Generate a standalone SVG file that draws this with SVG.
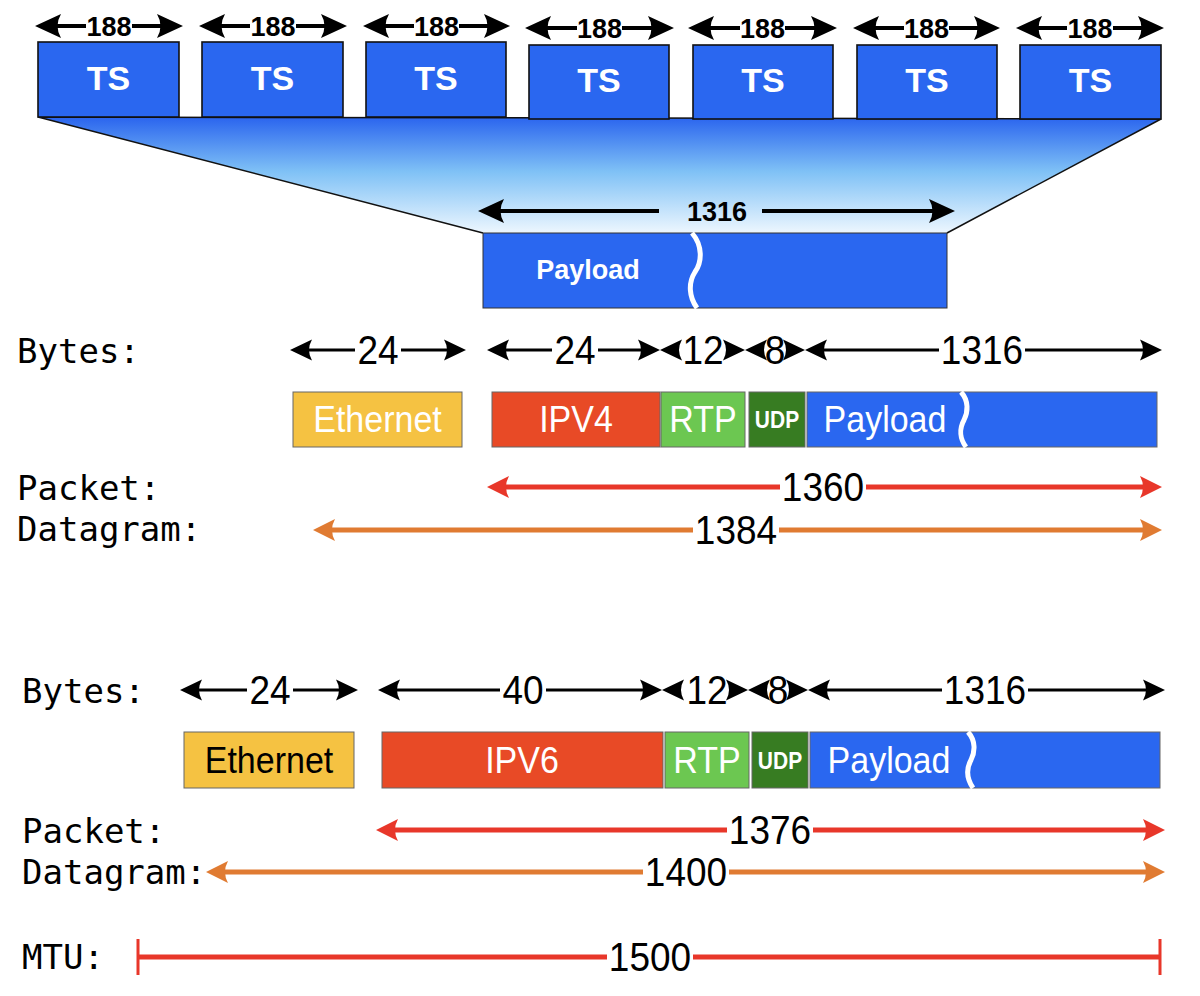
<svg xmlns="http://www.w3.org/2000/svg" xmlns:xlink="http://www.w3.org/1999/xlink" width="1200" height="996" viewBox="0 0 1200 996">
<style>
.ts{fill:#2a67f0;stroke:#111;stroke-width:1.6}
.tst{font-family:"Liberation Sans",Arial,sans-serif;font-weight:bold;font-size:34px;fill:#fff;text-anchor:middle}
.dimb{font-family:"Liberation Sans",Arial,sans-serif;font-weight:bold;font-size:27px;fill:#000;text-anchor:middle}
.dim{font-family:"Liberation Sans",Arial,sans-serif;font-size:37px;fill:#000;text-anchor:middle;transform-box:fill-box;transform-origin:center;transform:scaleY(1.12)}
.mono{font-family:"DejaVu Sans Mono","Liberation Mono",monospace;font-size:34px;fill:#000}
.lbl{font-family:"Liberation Sans",Arial,sans-serif;font-size:34px;fill:#fff;text-anchor:middle;transform-box:fill-box;transform-origin:center;transform:scaleY(1.1)}
.udp{font-family:"Liberation Sans",Arial,sans-serif;font-weight:bold;font-size:21px;fill:#fff;text-anchor:middle;transform-box:fill-box;transform-origin:center;transform:scaleY(1.1)}
.box{stroke:#666;stroke-width:1}
.eth{fill:#f5c242}.ip{fill:#e84a26}.rtp{fill:#6cc751}.udpf{fill:#377c22}.pay{fill:#2a67f0}
.wave{fill:none;stroke:#fff;stroke-width:5}
.bk4{stroke:#000;stroke-width:4;fill:none}
.bk3{stroke:#000;stroke-width:3;fill:none}
.red{stroke:#e8372a;stroke-width:5;fill:none}
.org{stroke:#e07b32;stroke-width:5;fill:none}
</style>
<defs>
<linearGradient id="fan" gradientUnits="userSpaceOnUse" x1="0" y1="117" x2="0" y2="238">
<stop offset="0" stop-color="#2a64ee"/>
<stop offset="0.45" stop-color="#7fc1f6"/>
<stop offset="1" stop-color="#f6fbff"/>
</linearGradient>
<path id="hbR" d="M0,0 L-26,-12 Q-19,0 -26,12 Z"/>
<path id="hbL" d="M0,0 L26,-12 Q19,0 26,12 Z"/>
<path id="hmR" d="M0,0 L-22,-10.5 Q-16,0 -22,10.5 Z"/>
<path id="hmL" d="M0,0 L22,-10.5 Q16,0 22,10.5 Z"/>
<path id="hcR" d="M0,0 L-22,-11 Q-16,0 -22,11 Z"/>
<path id="hcL" d="M0,0 L22,-11 Q16,0 22,11 Z"/>
</defs>
<rect width="1200" height="996" fill="#fff"/>

<g id="fan-out">
<polygon points="38,117 1161,119 947,233 483,233" fill="url(#fan)"/>
<path d="M483,233 L38,117 L1161,119 L947,233" fill="none" stroke="#111" stroke-width="1.5"/>
</g>

<g id="ts-1"><rect class="ts" x="38" y="42" width="141" height="75"/><text class="tst" x="108.5" y="90">TS</text></g>
<g id="ts-2"><rect class="ts" x="202" y="42" width="141" height="75"/><text class="tst" x="272.5" y="90">TS</text></g>
<g id="ts-3"><rect class="ts" x="366" y="42" width="140" height="75"/><text class="tst" x="436" y="90">TS</text></g>
<g id="ts-4"><rect class="ts" x="529" y="45" width="140" height="74"/><text class="tst" x="599" y="92">TS</text></g>
<g id="ts-5"><rect class="ts" x="693" y="45" width="140" height="74"/><text class="tst" x="763" y="92">TS</text></g>
<g id="ts-6"><rect class="ts" x="857" y="45" width="140" height="74"/><text class="tst" x="927" y="92">TS</text></g>
<g id="ts-7"><rect class="ts" x="1020" y="45" width="141" height="74"/><text class="tst" x="1090.5" y="92">TS</text></g>

<g id="payload-top">
<rect x="483" y="233" width="464" height="75" fill="#2a67f0" stroke="#333" stroke-width="1"/>
<path class="wave" d="M692,233 C703,246 702,262 695,272 C688,283 689,297 697,308"/>
<text class="dimb" x="588" y="279" style="fill:#fff">Payload</text>
</g>

<g id="labels">
<text class="mono" x="17" y="363">Bytes:</text>
<text class="mono" x="17" y="500">Packet:</text>
<text class="mono" x="17" y="541">Datagram:</text>
<text class="mono" x="22" y="703">Bytes:</text>
<text class="mono" x="22" y="843">Packet:</text>
<text class="mono" x="22" y="884">Datagram:</text>
<text class="mono" x="22" y="969">MTU:</text>
</g>

<g id="ipv4-ethernet"><rect class="box eth" x="293" y="392" width="169" height="55"/><text class="lbl" x="377.5" y="431">Ethernet</text></g>
<g id="ipv4-ip"><rect class="box ip" x="492" y="392" width="168" height="55"/><text class="lbl" x="576" y="431">IPV4</text></g>
<g id="ipv4-rtp"><rect class="box rtp" x="661" y="392" width="84" height="55"/><text class="lbl" x="703" y="431">RTP</text></g>
<g id="ipv4-udp"><rect class="box udpf" x="749" y="392" width="56" height="55"/><text class="udp" x="777" y="427">UDP</text></g>
<g id="ipv4-payload"><rect class="box pay" x="807" y="392" width="350" height="55"/><path class="wave" d="M961,392 C969,401 968,412 964,420 C959,429 960,439 966,447"/><text class="lbl" x="885" y="431">Payload</text></g>

<g id="ipv6-ethernet"><rect class="box eth" x="184" y="732" width="170" height="56"/><text class="lbl" x="269" y="772" style="fill:#000">Ethernet</text></g>
<g id="ipv6-ip"><rect class="box ip" x="382" y="732" width="281" height="56"/><text class="lbl" x="522" y="772">IPV6</text></g>
<g id="ipv6-rtp"><rect class="box rtp" x="665" y="732" width="84" height="56"/><text class="lbl" x="707" y="772">RTP</text></g>
<g id="ipv6-udp"><rect class="box udpf" x="752" y="732" width="56" height="56"/><text class="udp" x="780" y="768">UDP</text></g>
<g id="ipv6-payload"><rect class="box pay" x="810" y="732" width="350" height="56"/><path class="wave" d="M968,732 C976,741 975,752 971,760 C966,769 967,779 973,788"/><text class="lbl" x="889" y="772">Payload</text></g>

<g id="connectors">
<g id="ts-dims">
<path class="bk4" d="M47,26H86M132,26H171"/><use href="#hbL" x="35" y="26"/><use href="#hbR" x="183" y="26"/><text class="dimb" x="109" y="35.5">188</text>
<path class="bk4" d="M211,26H250M296,26H335"/><use href="#hbL" x="199" y="26"/><use href="#hbR" x="347" y="26"/><text class="dimb" x="273" y="35.5">188</text>
<path class="bk4" d="M375,26H414M459,26H498"/><use href="#hbL" x="363" y="26"/><use href="#hbR" x="510" y="26"/><text class="dimb" x="436.5" y="35.5">188</text>
<path class="bk4" d="M537,28H577M622,28H662"/><use href="#hbL" x="525" y="28"/><use href="#hbR" x="674" y="28"/><text class="dimb" x="599.5" y="37.5">188</text>
<path class="bk4" d="M700,28H740M785,28H825"/><use href="#hbL" x="688" y="28"/><use href="#hbR" x="837" y="28"/><text class="dimb" x="762.5" y="37.5">188</text>
<path class="bk4" d="M865,28H904M949,28H988"/><use href="#hbL" x="853" y="28"/><use href="#hbR" x="1000" y="28"/><text class="dimb" x="926.5" y="37.5">188</text>
<path class="bk4" d="M1028,28H1067M1113,28H1152"/><use href="#hbL" x="1016" y="28"/><use href="#hbR" x="1164" y="28"/><text class="dimb" x="1090" y="37.5">188</text>
<path class="bk4" d="M490,211H659M762,211H943"/><use href="#hbL" x="478" y="211"/><use href="#hbR" x="955" y="211"/><text class="dimb" x="717" y="220.5">1316</text>
</g>
<g id="ipv4-dims">
<path class="bk3" d="M304,350H355M401,350H452"/><use href="#hmL" x="290" y="350"/><use href="#hmR" x="466" y="350"/><text class="dim" x="378" y="362">24</text>
<path class="bk3" d="M501,350H552M598,350H646"/><use href="#hmL" x="487" y="350"/><use href="#hmR" x="660" y="350"/><text class="dim" x="575" y="362">24</text>
<use href="#hmL" x="660" y="350"/><use href="#hmR" x="745" y="350"/><text class="dim" x="703" y="362">12</text>
<use href="#hmL" x="745" y="350"/><use href="#hmR" x="805" y="350"/><text class="dim" x="775" y="362">8</text>
<path class="bk3" d="M819,350H939M1025,350H1148"/><use href="#hmL" x="805" y="350"/><use href="#hmR" x="1162" y="350"/><text class="dim" x="982" y="362">1316</text>
<path class="red" d="M501,487H780M866,487H1148"/><use href="#hcL" x="487" y="487" fill="#e8372a"/><use href="#hcR" x="1162" y="487" fill="#e8372a"/><text class="dim" x="823" y="499">1360</text>
<path class="org" d="M327,530H693M779,530H1148"/><use href="#hcL" x="313" y="530" fill="#e07b32"/><use href="#hcR" x="1162" y="530" fill="#e07b32"/><text class="dim" x="736" y="542">1384</text>
</g>
<g id="ipv6-dims">
<path class="bk3" d="M194,690H247M293,690H344"/><use href="#hmL" x="180" y="690"/><use href="#hmR" x="358" y="690"/><text class="dim" x="270" y="702">24</text>
<path class="bk3" d="M392,690H500M546,690H648"/><use href="#hmL" x="378" y="690"/><use href="#hmR" x="662" y="690"/><text class="dim" x="523" y="702">40</text>
<use href="#hmL" x="662" y="690"/><use href="#hmR" x="748" y="690"/><text class="dim" x="707" y="702">12</text>
<use href="#hmL" x="748" y="690"/><use href="#hmR" x="808" y="690"/><text class="dim" x="778" y="702">8</text>
<path class="bk3" d="M822,690H942M1028,690H1151"/><use href="#hmL" x="808" y="690"/><use href="#hmR" x="1165" y="690"/><text class="dim" x="985" y="702">1316</text>
<path class="red" d="M390,830H727M813,830H1151"/><use href="#hcL" x="376" y="830" fill="#e8372a"/><use href="#hcR" x="1165" y="830" fill="#e8372a"/><text class="dim" x="770" y="842">1376</text>
<path class="org" d="M220,872H643M729,872H1151"/><use href="#hcL" x="206" y="872" fill="#e07b32"/><use href="#hcR" x="1165" y="872" fill="#e07b32"/><text class="dim" x="686" y="884">1400</text>
</g>
<g id="mtu-dim">
<path class="red" d="M138,957H607M693,957H1160"/>
<path d="M138,939V975M1160,939V975" stroke="#e8372a" stroke-width="3"/>
<text class="dim" x="650" y="969">1500</text>
</g>
</g>
</svg>
